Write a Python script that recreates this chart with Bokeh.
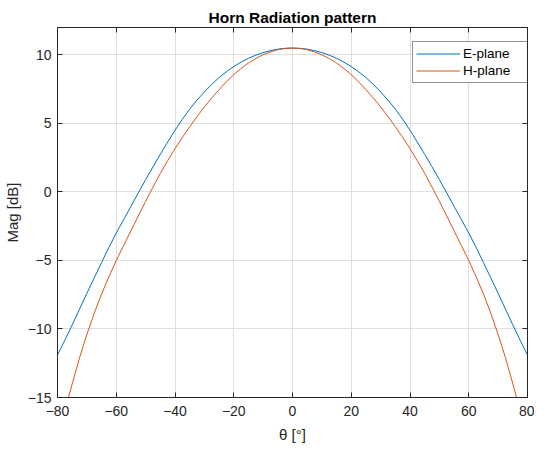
from bokeh.plotting import figure
from bokeh.models import (Range1d, LinearAxis, FixedTicker, Legend, LegendItem,
                          CustomJSTickFormatter)
from bokeh.embed import file_html
from bokeh.resources import INLINE

# ---- data ----
theta = [-80, -77.5, -75, -72.5, -70, -67.5, -65, -62.5, -60, -57.5, -55, -52.5, -50, -47.5, -45, -42.5,
         -40, -37.5, -35, -32.5, -30, -27.5, -25, -22.5, -20, -17.5, -15, -12.5, -10, -7.5, -5, -2.5,
         0, 2.5, 5, 7.5, 10, 12.5, 15, 17.5, 20, 22.5, 25, 27.5, 30, 32.5, 35, 37.5,
         40, 42.5, 45, 47.5, 50, 52.5, 55, 57.5, 60, 62.5, 65, 67.5, 70, 72.5, 75, 77.5, 80]
e_plane = [-11.9, -10.82, -9.7, -8.55, -7.4, -6.27, -5.15, -4.05, -3.0, -2.02, -1.05, -0.07, 0.9, 1.83, 2.75, 3.64,
           4.5, 5.3, 6.05, 6.7, 7.3, 7.85, 8.35, 8.77, 9.15, 9.47, 9.75, 9.98, 10.17, 10.31, 10.42, 10.48,
           10.5, 10.48, 10.42, 10.31, 10.17, 9.98, 9.75, 9.47, 9.15, 8.77, 8.35, 7.85, 7.3, 6.7, 6.05, 5.3,
           4.5, 3.64, 2.75, 1.83, 0.9, -0.07, -1.05, -2.02, -3.0, -4.05, -5.15, -6.27, -7.4, -8.55, -9.7, -10.82, -11.9]
h_plane = [-18.2, -16.0, -14.0, -12.1, -10.4, -8.85, -7.45, -6.18, -5.0, -3.92, -2.84, -1.75, -0.69, 0.35, 1.36, 2.28,
           3.16, 3.98, 4.76, 5.5, 6.21, 6.85, 7.46, 8.04, 8.56, 9.01, 9.41, 9.74, 10.01, 10.22, 10.38, 10.47,
           10.5, 10.47, 10.38, 10.22, 10.01, 9.74, 9.41, 9.01, 8.56, 8.04, 7.46, 6.85, 6.21, 5.5, 4.76, 3.98,
           3.16, 2.28, 1.36, 0.35, -0.69, -1.75, -2.84, -3.92, -5.0, -6.18, -7.45, -8.85, -10.4, -12.1, -14.0, -16.0, -18.2]
series_names = ["E-plane", "H-plane"]
x_ticks = [-80, -60, -40, -20, 0, 20, 40, 60, 80]
y_ticks = [-15, -10, -5, 0, 5, 10]
x_lim = (-80, 80)
y_lim = (-15, 12)
title_text = "Horn Radiation pattern"
y_label = "Mag [dB]"
x_label = "θ [°]"

AX = "#262626"
GRID = "#dfdfdf"
FONT = "Liberation Sans"

p = figure(frame_width=470, frame_height=370, x_range=Range1d(*x_lim), y_range=Range1d(*y_lim),
           output_backend="svg", toolbar_location=None,
           min_border_left=57, min_border_right=7, min_border_top=27, min_border_bottom=48,
           title=title_text)
p.background_fill_color = "white"
p.border_fill_color = "white"
p.outline_line_color = AX
p.outline_line_width = 1

p.title.align = "center"
p.title.text_font = FONT
p.title.text_font_size = "15.5px"
p.title.text_font_style = "bold"
p.title.text_color = "black"
p.title.standoff = 4

for ax, tk in ((p.xaxis[0], x_ticks), (p.yaxis[0], y_ticks)):
    ax.ticker = FixedTicker(ticks=tk)
    ax.major_label_text_font = FONT
    ax.major_label_text_font_size = "14px"
    ax.major_label_text_color = AX
    ax.axis_line_color = AX
    ax.major_tick_line_color = AX
    ax.major_tick_in = 5
    ax.major_tick_out = 0
    ax.minor_tick_out = 0
    ax.minor_tick_line_color = None
p.xaxis[0].major_label_standoff = 8
p.xaxis[0].axis_label = x_label
p.xaxis[0].axis_label_text_font = FONT
p.xaxis[0].axis_label_text_font_size = "15px"
p.xaxis[0].axis_label_text_font_style = "normal"
p.xaxis[0].axis_label_text_color = AX
p.xaxis[0].axis_label_standoff = 7
p.yaxis[0].major_label_standoff = 6
p.yaxis[0].axis_label = y_label
p.yaxis[0].axis_label_text_font = FONT
p.yaxis[0].axis_label_text_font_size = "15px"
p.yaxis[0].axis_label_text_font_style = "normal"
p.yaxis[0].axis_label_text_color = AX
p.yaxis[0].axis_label_standoff = 4

blank = CustomJSTickFormatter(code="return ''")
def box_axis(ticks):
    return LinearAxis(ticker=FixedTicker(ticks=ticks), formatter=blank,
                      major_label_text_font_size="0px", major_label_standoff=0,
                      axis_line_color=AX, major_tick_line_color=AX,
                      major_tick_in=5, major_tick_out=0, minor_tick_in=0, minor_tick_out=0,
                      minor_tick_line_color=None)
p.add_layout(box_axis(x_ticks), "above")
p.add_layout(box_axis(y_ticks), "right")

p.xgrid.ticker = FixedTicker(ticks=x_ticks)
p.ygrid.ticker = FixedTicker(ticks=y_ticks)
p.grid.grid_line_color = GRID
p.grid.grid_line_width = 1

r1 = p.line(theta, e_plane, line_color="#0072BD", line_width=1.0)
r2 = p.line(theta, h_plane, line_color="#D95319", line_width=1.0)

legend = Legend(items=[LegendItem(label=series_names[0], renderers=[r1]),
                       LegendItem(label=series_names[1], renderers=[r2])],
                location=(355, 314), orientation="vertical")
legend.border_line_color = AX
legend.border_line_width = 1
legend.background_fill_color = "white"
legend.background_fill_alpha = 1
legend.label_text_font = FONT
legend.label_text_font_size = "13.5px"
legend.label_text_color = "black"
legend.glyph_width = 44
legend.glyph_height = 17
legend.label_height = 17
legend.label_width = 61
legend.label_standoff = 3
legend.padding = 3
legend.spacing = 0
legend.margin = 0
p.add_layout(legend, "center")

open("out.html", "w").write(file_html(p, INLINE))
